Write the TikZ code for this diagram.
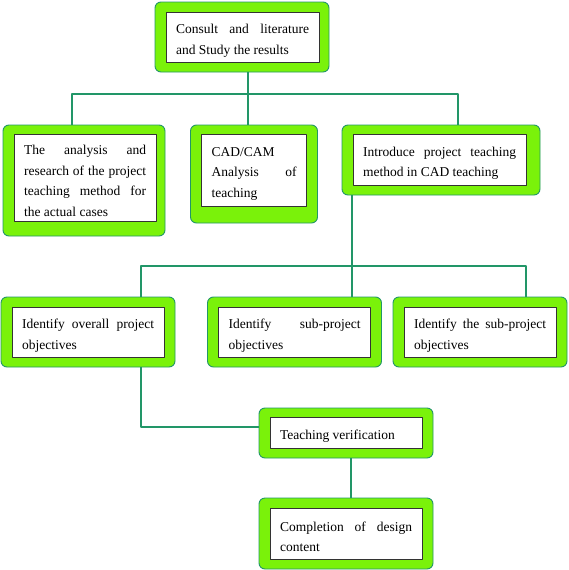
\documentclass[tikz,border=0pt]{standalone}
\usepackage{fontspec}
\setmainfont{Liberation Serif}
\definecolor{leafgreen}{RGB}{122,242,10}
\definecolor{linkgreen}{RGB}{34,150,104}

\begin{document}
\begin{tikzpicture}[x=1pt,y=1pt,line join=round]
    \tikzstyle{frame}=[draw=linkgreen,fill=leafgreen,rounded corners=6pt,line width=0.9pt,inner sep=0pt]
    \tikzstyle{card}=[draw=black!80,fill=white,line width=1pt,inner xsep=10pt,inner ysep=0pt,align=justify,anchor=north west,
        font=\fontsize{13.5}{20.5}\selectfont,text height=16.5pt]
    \tikzstyle{link}=[draw=linkgreen,line width=1.6pt]

    \useasboundingbox (0,0) rectangle (568,-570);

    % Draw the top box
    \node[frame,minimum width=174,minimum height=70] (lit) at (242,-37) {};
    \node[card,text width=133,minimum width=153,minimum height=50] (lit-t) at ([shift={(11,-10)}]lit.north west)
        {Consult and literature\linebreak and Study the results};

    % Draw the second row
    \node[frame,minimum width=162,minimum height=111] (cases) at (84,-180.5) {};
    \node[card,text width=122,minimum width=142,minimum height=87] (cases-t) at ([shift={(11,-9)}]cases.north west)
        {The analysis and\linebreak research of the project\linebreak teaching method for\linebreak the actual cases};
    \node[frame,minimum width=127,minimum height=98] (cam) at (254,-174) {};
    \node[card,text width=85,minimum width=105,minimum height=72] (cam-t) at ([shift={(11,-9)}]cam.north west)
        {CAD/CAM\\ Analysis of\linebreak teaching};
    \node[frame,minimum width=198,minimum height=70] (intro) at (441,-160) {};
    \node[card,text width=153,minimum width=173,minimum height=51] (intro-t) at ([shift={(11,-9)}]intro.north west)
        {Introduce project teaching\linebreak method in CAD teaching};

    % Draw the third row
    \foreach \name/\x/\txt in {overall/88/{Identify overall project\linebreak objectives},
                               sub/294.5/{Identify sub-project\linebreak objectives},
                               subb/480/{Identify the sub-project\linebreak objectives}}
    {
        \node[frame,minimum width=174,minimum height=70] (\name) at (\x,-332) {};
        \node[card,text width=132,minimum width=152,minimum height=50] (\name-t) at ([shift={(11,-10)}]\name.north west) {\txt};
    }

    % Draw the last two boxes
    \node[frame,minimum width=174,minimum height=50] (verify) at (346,-433) {};
    \node[card,text width=132,minimum width=152,minimum height=31] (verify-t) at ([shift={(11,-9)}]verify.north west)
        {Teaching verification};
    \node[frame,minimum width=174,minimum height=71] (comp) at (346,-533.5) {};
    \node[card,text width=132,minimum width=152,minimum height=51] (comp-t) at ([shift={(11,-10)}]comp.north west)
        {Completion of design\linebreak content};

    % Connect the boxes
    \coordinate (bus-a) at (248,-94);
    \coordinate (bus-b) at (352,-266);
    \draw[link] ([xshift=6]lit.south) -- ([xshift=-6]cam.north);
    \draw[link] ([xshift=-12]cases.north) |- (bus-a) -| ([xshift=17]intro.north);
    \draw[link] ([xshift=-89]intro.south) -- ([xshift=57.5]sub.north);
    \draw[link] ([xshift=53]overall.north) |- (bus-b) -| ([xshift=46]subb.north);
    \draw[link] ([xshift=53]overall.south) |- ([yshift=6]verify.west);
    \draw[link] ([xshift=5]verify.south) -- ([xshift=5]comp.north);
\end{tikzpicture}
\end{document}
